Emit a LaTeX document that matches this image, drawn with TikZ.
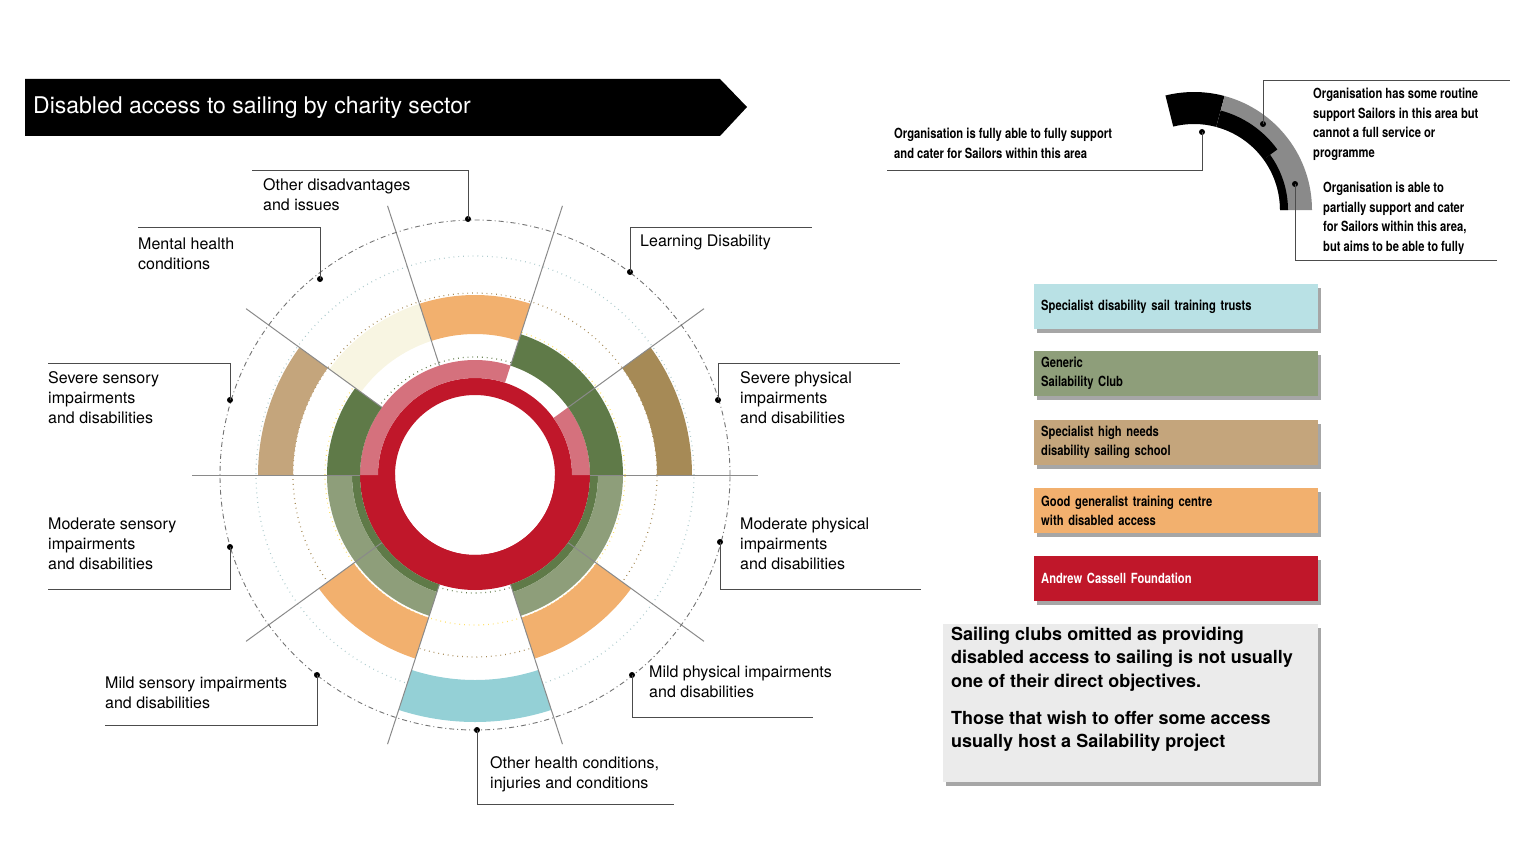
\documentclass[tikz,border=0pt]{standalone}
\usepackage{fontspec}
\setmainfont{TeX Gyre Heros}
\newfontfamily\cond{TeX Gyre Heros}[FakeStretch=0.8]
\definecolor{dred}{HTML}{C0172A}
\definecolor{pinkc}{HTML}{D5717D}
\definecolor{dgreen}{HTML}{5F7A48}
\definecolor{lgreen}{HTML}{8E9E7A}
\definecolor{tanc}{HTML}{C4A57C}
\definecolor{brownc}{HTML}{A68A56}
\definecolor{orangec}{HTML}{F2B06E}
\definecolor{creamc}{HTML}{F8F5E2}
\definecolor{bluec}{HTML}{94D0D6}
\definecolor{lbluec}{HTML}{B9E1E5}
\definecolor{greyc}{HTML}{8A8A8A}
\newcommand\annseg[5]{\fill[#1] (#2:#5) arc[start angle=#2,end angle=#3,radius=#5] -- (#3:#4) arc[start angle=#3,end angle=#2,radius=#4] -- cycle;}
\tikzset{
 lab/.style={font=\fontsize{16}{20}\selectfont, align=left, anchor=north west, inner sep=0pt},
 lead/.style={draw=black!70, line width=0.8pt},
 dotc/.style={circle, fill=black, inner sep=0pt, minimum size=6pt},
 legbox/.style={draw=none, minimum width=284pt, minimum height=45pt, anchor=north west, align=left, text width=270pt, inner xsep=7pt, font=\cond\bfseries\fontsize{14}{19}\selectfont, drop},
 drop/.style={preaction={fill=black!35, transform canvas={xshift=3pt,yshift=-4pt}}},
 note/.style={font=\cond\bfseries\fontsize{14}{19.5}\selectfont, align=left, anchor=north west, inner sep=0pt},
}
\begin{document}
\begin{tikzpicture}[x=1pt,y=-1pt]
\useasboundingbox (0,0) rectangle (1536,864);
% title banner
\fill[black] (25,79) -- (720,79) -- (747,107) -- (720,136) -- (25,136) -- cycle;
\node[anchor=west, text=white, font=\fontsize{23}{26}\selectfont, inner sep=0pt] (title) at (33,108) {Disabled access to sailing by charity sector};
% chart
\begin{scope}[shift={(475,475)}, yscale=-1]
\draw[bluec!80!black!60, line width=1.2pt, dash pattern=on 0.8pt off 4pt] (0,0) circle[radius=219];
\draw[brownc, line width=1.2pt, dash pattern=on 0.8pt off 4pt] (0,0) circle[radius=182];
\draw[orange!40!yellow!60, line width=1.2pt, dash pattern=on 0.8pt off 4pt] (0,0) circle[radius=150];
\draw[dgreen, line width=1.2pt, dash pattern=on 0.8pt off 4pt] (0,0) circle[radius=118];
% red centre
\annseg{dred}{0}{360}{80}{97}
\annseg{dred}{180}{360}{80}{115}
\annseg{pinkc}{72}{180}{97}{115}
\annseg{pinkc}{0}{36}{97}{115}
% greens
\annseg{dgreen}{0}{72}{115}{148}
\annseg{dgreen}{144}{180}{115}{148}
\annseg{dgreen}{180}{252}{115}{123}
\annseg{dgreen}{288}{360}{115}{123}
\annseg{lgreen}{180}{252}{123}{148}
\annseg{lgreen}{288}{360}{123}{148}
% others
\annseg{tanc}{144}{180}{182}{217}
\annseg{brownc}{0}{36}{182}{217}
\annseg{orangec}{72}{108}{141}{180}
\annseg{creamc}{108}{144}{141}{180}
\annseg{orangec}{216}{252}{150}{193}
\annseg{orangec}{288}{324}{150}{193}
\annseg{bluec}{252}{288}{205}{247}
% sector lines
\foreach \a in {0,36,...,324} \draw[greyc, line width=1pt] (\a:115) -- (\a:283);
\draw[black!55, line width=0.9pt, dash pattern=on 5pt off 3pt on 1pt off 3pt] (0,0) circle[radius=255];
\end{scope}
% labels
\node[dotc] (d1) at (468,219) {};
\draw[lead] (d1.center) -- (468,170) -- (252,170);
\node[lab] (l1) at (263,178) {Other disadvantages\\and issues};
\node[dotc] (d2) at (320,279) {};
\draw[lead] (d2.center) -- (320,227) -- (138,227);
\node[lab] (l2) at (138,238) {Mental health\\conditions};
\node[dotc] (d3) at (630,272) {};
\draw[lead] (d3.center) -- (630,227) -- (812,227);
\node[lab] (l3) at (640,235) {Learning Disability};
\node[dotc] (d4) at (230,400) {};
\draw[lead] (d4.center) -- (230,363) -- (48,363);
\node[lab] (l4) at (48,371) {Severe sensory\\impairments\\and disabilities};
\node[dotc] (d5) at (718,400) {};
\draw[lead] (d5.center) -- (718,363) -- (900,363);
\node[lab] (l5) at (740,371) {Severe physical\\impairments\\and disabilities};
\node[dotc] (d6) at (230,547) {};
\draw[lead] (d6.center) -- (230,589) -- (48,589);
\node[lab] (l6) at (48,518) {Moderate sensory\\impairments\\and disabilities};
\node[dotc] (d7) at (720,542) {};
\draw[lead] (d7.center) -- (720,589) -- (921,589);
\node[lab] (l7) at (740,518) {Moderate physical\\impairments\\and disabilities};
\node[dotc] (d8) at (317,675) {};
\draw[lead] (d8.center) -- (317,725) -- (105,725);
\node[lab] (l8) at (105,677) {Mild sensory impairments\\and disabilities};
\node[dotc] (d9) at (632,675) {};
\draw[lead] (d9.center) -- (632,717) -- (813,717);
\node[lab] (l9) at (649,666) {Mild physical impairments\\and disabilities};
\node[dotc] (d10) at (477,730) {};
\draw[lead] (d10.center) -- (477,804) -- (674,804);
\node[lab] (l10) at (490,756) {Other health conditions,\\injuries and conditions};
% key arc
\begin{scope}[shift={(1194,210)}, yscale=-1]
\annseg{black}{75}{104}{86}{118}
\annseg{greyc}{0}{75}{86}{118}
\annseg{black}{36}{75}{86}{103}
\annseg{black}{0}{36}{86}{94}
\end{scope}
\node[dotc] (k1) at (1202,132) {};
\draw[lead] (k1.center) -- (1202,170) -- (887,170);
\node[note] (kt1) at (894,128) {Organisation is fully able to fully support\\and cater for Sailors within this area};
\node[dotc] (k2) at (1263,124) {};
\draw[lead] (k2.center) -- (1263,80) -- (1510,80);
\node[note] (kt2) at (1313,88) {Organisation has some routine\\support Sailors in this area but\\cannot a full service or\\programme};
\node[dotc] (k3) at (1295,184) {};
\draw[lead] (k3.center) -- (1295,260) -- (1497,260);
\node[note] (kt3) at (1323,182) {Organisation is able to\\partially support and cater\\for Sailors within this area,\\but aims to be able to fully};
% legend
\node[legbox, fill=lbluec] (b1) at (1034,284) {Specialist disability sail training trusts};
\node[legbox, fill=lgreen] (b2) at (1034,351) {Generic\\Sailability Club};
\node[legbox, fill=tanc] (b3) at (1034,420) {Specialist high needs\\disability sailing school};
\node[legbox, fill=orangec] (b4) at (1034,488) {Good generalist training centre\\with disabled access};
\node[legbox, fill=dred, text=white] (b5) at (1034,556) {Andrew Cassell Foundation};
\node[drop, fill=black!8, minimum width=375pt, minimum height=158pt, anchor=north west, inner sep=0pt] (nb) at (943,624) {};
\node[anchor=north west, inner sep=0pt, align=left, font=\bfseries\fontsize{18}{23.3}\selectfont] (nt) at (951,627) {Sailing clubs omitted as providing\\disabled access to sailing is not usually\\one of their direct objectives.\\[14pt]Those that wish to offer some access\\usually host a Sailability project};
\end{tikzpicture}
\end{document}
